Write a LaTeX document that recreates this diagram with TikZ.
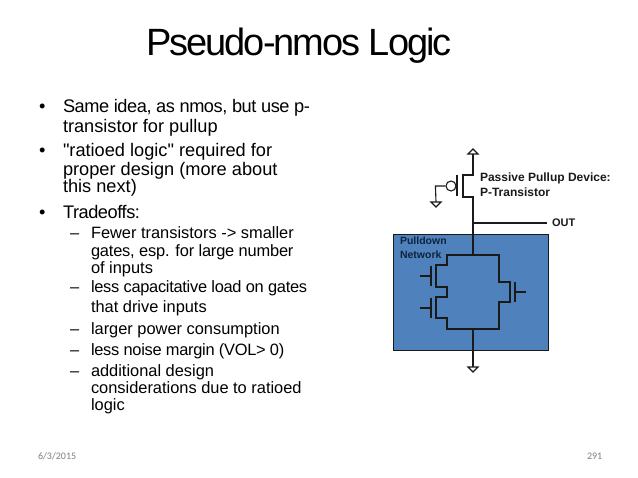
\documentclass[tikz,border=0pt]{standalone}
\usepackage{fontspec}
\setmainfont{Liberation Sans}
\newfontfamily\plainfont{Liberation Sans}
\newfontfamily\foot{Carlito}
\newfontfamily\tight[LetterSpace=-5.3]{Liberation Sans}
\newfontfamily\tightone[LetterSpace=-2.4]{Liberation Sans}
\newfontfamily\tighttwo[LetterSpace=-1.7]{Liberation Sans}
\newfontfamily\tightthree[LetterSpace=-1.1]{Liberation Sans}
\definecolor{boxblue}{HTML}{4F81BD}
\definecolor{ink}{HTML}{1A1A1A}
\definecolor{darkink}{HTML}{0F243E}
\definecolor{footgray}{HTML}{7F7F7F}
\tikzset{
  x=1pt,y=-1pt,
  wire/.style={draw=ink,line width=1.1pt,line join=miter},
  hollow/.style={draw=ink,line width=1.1pt,fill=white},
  one/.style={anchor=base west,inner sep=0pt,outer sep=0pt,font=\fontsize{18.2}{20}\selectfont,text=black},
  two/.style={anchor=base west,inner sep=0pt,outer sep=0pt,font=\fontsize{16.4}{20}\selectfont,text=black},
  lab/.style={anchor=base west,inner sep=0pt,outer sep=0pt,font=\fontsize{12}{13}\selectfont\bfseries,text=ink},
  pdn/.style={anchor=base west,inner sep=0pt,outer sep=0pt,font=\fontsize{10.5}{13}\selectfont\bfseries,text=darkink},
  foottext/.style={anchor=base west,inner sep=0pt,outer sep=0pt,font=\foot\fontsize{10}{12}\selectfont,text=footgray},
}
\begin{document}
\begin{tikzpicture}
\useasboundingbox (0,0) rectangle (638,478);
\fill[white] (0,0) rectangle (638,478);
\node[anchor=base west,inner sep=0pt,font=\tight\fontsize{38}{44}\selectfont] (title) at (146,56) {Pseudo-nmos Logic};
% bullets
\node[one] (b1) at (39,113) {•};
\node[one] (b2) at (39,157) {•};
\node[one] (b3) at (39,219) {•};
\node[one] (l1) at (63,113) {\tightone Same idea, as nmos, but use p-};
\node[one] (l2) at (63,133) {transistor for pullup};
\node[one] (l3) at (63,157) {\plainfont "ratioed logic" required for};
\node[one] (l4) at (63,176) {proper design (more about};
\node[one] (l5) at (63,193) {this next)};
\node[one] (l6) at (63,219) {\tightone Tradeoffs:};
\node[two] (d1) at (70,239) {–};
\node[two] (t1) at (91,239) {Fewer transistors -> smaller};
\node[two] (t2) at (91,257) {\tightthree gates, esp. for large number};
\node[two] (t3) at (91,274) {of inputs};
\node[two] (d2) at (70,293) {–};
\node[two] (t4) at (91,293) {\tighttwo less capacitative load on gates};
\node[two] (t5) at (91,313) {that drive inputs};
\node[two] (d3) at (70,335) {–};
\node[two] (t6) at (91,335) {larger power consumption};
\node[two] (d4) at (70,356) {–};
\node[two] (t7) at (91,356) {\tighttwo less noise margin (VOL> 0)};
\node[two] (d5) at (70,377) {–};
\node[two] (t8) at (91,377) {additional design};
\node[two] (t9) at (91,394) {considerations due to ratioed};
\node[two] (t10) at (91,411) {logic};
% footer
\node[foottext] (date) at (38,460) {6/3/2015};
\node[foottext] (page) at (587,460) {291};
% circuit
\node[draw=ink,line width=1.1pt,fill=boxblue,minimum width=155pt,minimum height=116pt,inner sep=0pt,anchor=north west] (box) at (393,234) {};
\coordinate (vdd) at (473,154);
\coordinate (ptop) at (473,175);
\coordinate (pbot) at (473,197);
\coordinate (out) at (547,223);
\coordinate (outj) at (473,223);
\coordinate (ntop) at (473,255);
\coordinate (nbot) at (473,329);
\coordinate (gnd) at (473,367);
\coordinate (pgnd) at (436,202);
\node[circle,draw=ink,line width=1.1pt,fill=white,minimum size=10pt,inner sep=0pt] (bub) at (451,186) {};
\node[lab] (pass) at (480,182) {Passive Pullup Device:};
\node[lab] (ptr) at (480,197) {P-Transistor};
\node[lab,font=\fontsize{11}{13}\selectfont\bfseries] (outl) at (552,227) {OUT};
\node[pdn] (pd) at (400,245) {Pulldown};
\node[pdn] (nw) at (400,259) {Network};
% wires
\draw[wire] (vdd) -- (ptop) -- ++(-10,0) -- ++(0,22) -- (pbot) -- (ntop);
\draw[wire] (outj) -- (out);
\draw[wire] (457,175) -- (457,196);
\draw[wire] (bub.west) -- ++(-10,0) -- (pgnd);
\draw[hollow] (vdd) ++(-5,0) -- ++(5,-5) -- ++(5,5) -- cycle;
\draw[hollow] (pgnd) ++(-5,0) -- ++(5,5) -- ++(5,-5) -- cycle;
\draw[wire] (ntop) -- (447,255) -- (447,265) -- (436,265) -- (436,287) -- (447,287) -- (447,297) -- (436,297) -- (436,318) -- (447,318) -- (447,329) -- (nbot);
\draw[wire] (ntop) -- (499,255) -- (499,282) -- (510,282) -- (510,302) -- (499,302) -- (499,329) -- (nbot);
\draw[wire] (nbot) -- (gnd);
\draw[hollow] (gnd) ++(-5,0) -- ++(5,5) -- ++(5,-5) -- cycle;
\draw[wire] (431,266) -- (431,286) (420,276) -- (431,276);
\draw[wire] (431,298) -- (431,318) (420,308) -- (431,308);
\draw[wire] (515,282) -- (515,302) (515,292) -- (526,292);
\end{tikzpicture}
\end{document}
